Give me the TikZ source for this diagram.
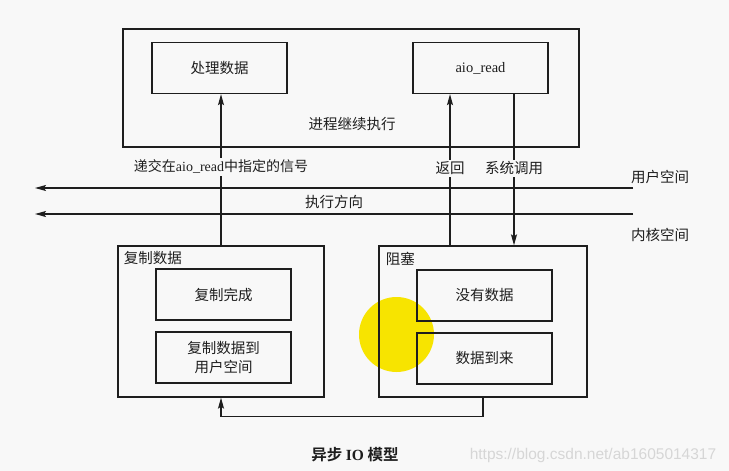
\documentclass[tikz,border=0pt]{standalone}
\usepackage{fontspec}
\setmainfont{Liberation Serif}
\setsansfont{Liberation Sans}
\newfontfamily\cjk{Noto Sans CJK SC}[BoldFont={Noto Sans CJK SC Bold}]
\usetikzlibrary{arrows.meta,calc,positioning}

\definecolor{bg}{RGB}{248,248,248}
\definecolor{ink}{RGB}{30,30,30}
\definecolor{hilite}{RGB}{247,228,0}
\definecolor{mark}{RGB}{214,214,214}

\begin{document}
\begin{tikzpicture}[x=1pt, y=-1pt, node distance=63pt, >={Stealth[length=11pt,width=6pt,inset=2pt]},
    main node/.style={draw=ink, line width=1.3pt, minimum width=135pt, minimum height=51pt, inner sep=0pt, align=center},
    group node/.style={draw=ink, line width=1.3pt, inner sep=0pt},
    tag node/.style={fill=bg, inner sep=2pt},
    link/.style={draw=ink, line width=1.4pt}]
        \tikzstyle{every node}=[font=\cjk\fontsize{14.5}{19}\selectfont, text=ink]
        \fill[bg] (0,0) rectangle (729,471);
        \useasboundingbox (0,0) rectangle (729,471);

        % pointer highlight
        \fill[hilite] (396.5,334.5) circle (37.5);

          \node[group node, minimum width=456pt, minimum height=118pt] (0) at (351,88) {};
          \node[main node] (1) at (219.5,68) {处理数据};
          \node[main node] (2) at (480.5,68) {\rmfamily aio\_read};
          \node[] (3) at (352,124) {进程继续执行};

          \node[group node, minimum width=206pt, minimum height=151pt] (5) at (221,321.5) {};
          \node[main node] (6) at (223.5,294.5) {复制完成};
          \node[main node] (7) [below of=6] {复制数据到\\用户空间};
          \node[anchor=west] (8) at ($(5.north west)+(3,13)$) {复制数据};

          \node[group node, minimum width=208pt, minimum height=151pt] (9) at (483,321.5) {};
          \node[main node] (10) at (484.5,295.5) {没有数据};
          \node[main node] (11) [below of=10] {数据到来};
          \node[anchor=west] (12) at ($(9.north west)+(4,14)$) {阻塞};

          \node[] (13) at (660,177) {用户空间};
          \node[] (14) at (660,235) {内核空间};
          \node[] (15) at (334,202) {执行方向};

          \coordinate (ur) at (633,188);
          \coordinate (ul) at (35,188);
          \coordinate (kr) at (633,214);
          \coordinate (kl) at (35,214);
          \coordinate (ret) at (450,94);
          \coordinate (sys) at (514,94);

          \draw[link, ->] (ur) -- (ul);
          \draw[link, ->] (kr) -- (kl);
          \draw[link, ->] (5.north) -- node [tag node, pos=0.52, font=\cjk\fontsize{14}{17}\selectfont] {递交在{\rmfamily aio\_read}中指定的信号} (5.north |- 1.south);
          \draw[link, ->] (ret |- 9.north) -- node [tag node, pos=0.51] {返回} (ret |- 2.south);
          \draw[link, ->] (sys |- 2.south) -- node [tag node, pos=0.49] {系统调用} (sys |- 9.north);
          \draw[link, ->] (9.south) -- ++(0,19) -| (5.south);

          \node[font=\cjk\bfseries\fontsize{15.5}{19}\selectfont] (16) at (355,455) {异步 {\rmfamily IO} 模型};
          \node[font=\sffamily\fontsize{15.5}{19}\selectfont, text=mark] (17) at (593,455) {https://blog.csdn.net/ab1605014317};

\end{tikzpicture}
\end{document}
